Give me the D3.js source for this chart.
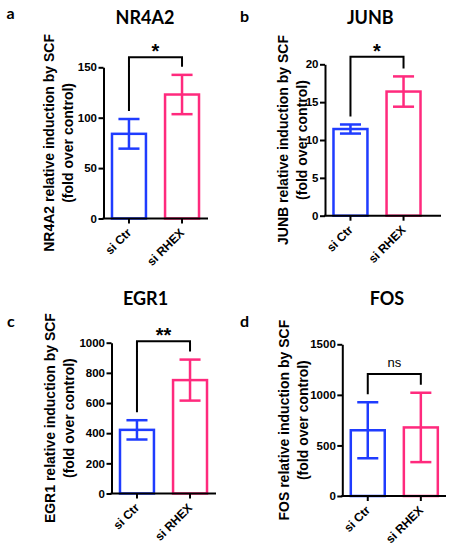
<!DOCTYPE html>
<html>
<head>
<meta charset="utf-8">
<script src="https://d3js.org/d3.v7.min.js"></script>
<style>
  body { margin: 0; background: #fff; }
  svg { display: block; }
  .axis path, .axis line { stroke: #000; stroke-width: 2px; }
</style>
</head>
<body>
<div id="chart"></div>
<script>
// data
var groups = ["si Ctr", "si RHEX"];
var genes = ["NR4A2", "JUNB", "EGR1", "FOS"];
var panelLetters = ["a", "b", "c", "d"];
var meanValues = [[84, 123], [11.45, 16.4], [422, 752], [650, 678]];
var errValues = [[14.7, 19.5], [0.6, 2.0], [64, 136], [277, 343]];
var yMaxValues = [150, 20, 1000, 1500];
var yTickValues = [[0, 50, 100, 150], [0, 5, 10, 15, 20], [0, 200, 400, 600, 800, 1000], [0, 500, 1000, 1500]];
var sigLabels = ["*", "*", "**", "ns"];
var bracketLevels = [160, 21, 1010, 1206];

var barColors = ["#1f3cff", "#ff2a7d"];
var axisFont = "'Liberation Sans', Arial, sans-serif";
var titleFont = "Lato, 'Open Sans', sans-serif";

// panel placement (pixels)
var panels = [
  { ox: 103.5, xEnd: 208, yTop: 67.3, yBot: 218.5, titleX: 145, titleY: 24.3, letX: 6.5, letY: 19, labX: 53.5 },
  { ox: 325, xEnd: 441, yTop: 64.3, yBot: 215.7, titleX: 370.3, titleY: 24, letX: 240, letY: 21.5, labX: 287.5 },
  { ox: 111.5, xEnd: 216, yTop: 342.7, yBot: 493.5, titleX: 145.5, titleY: 305, letX: 7, letY: 326.7, labX: 55 },
  { ox: 342.3, xEnd: 446, yTop: 344.3, yBot: 496, titleX: 387, titleY: 305, letX: 240, letY: 326.7, labX: 289 }
];

var svg = d3.select("#chart").append("svg")
  .attr("width", 454)
  .attr("height", 550);

panels.forEach(function(p, k) {
  var g = svg.append("g");

  var y = d3.scaleLinear()
    .domain([0, yMaxValues[k]])
    .range([p.yBot, p.yTop]);

  var x = d3.scaleBand()
    .domain(groups)
    .range([p.ox, p.ox + 104])
    .paddingInner(0.36)
    .paddingOuter(0.16);

  // bars
  g.selectAll("rect.bar")
    .data(groups)
    .enter()
    .append("rect")
    .attr("class", "bar")
    .attr("x", function(d) { return x(d); })
    .attr("y", function(d, i) { return y(meanValues[k][i]); })
    .attr("width", x.bandwidth())
    .attr("height", function(d, i) { return p.yBot - y(meanValues[k][i]); })
    .style("fill", "none")
    .style("stroke", function(d, i) { return barColors[i]; })
    .style("stroke-width", 2.5);

  // error bars
  var capW = x.bandwidth() * 0.62;
  groups.forEach(function(grp, i) {
    var cx = x(grp) + x.bandwidth() / 2;
    var hi = y(meanValues[k][i] + errValues[k][i]);
    var lo = y(meanValues[k][i] - errValues[k][i]);
    var eg = g.append("g")
      .style("stroke", barColors[i])
      .style("stroke-width", 2.5);
    eg.append("line").attr("x1", cx).attr("x2", cx).attr("y1", hi).attr("y2", lo);
    eg.append("line").attr("x1", cx - capW / 2).attr("x2", cx + capW / 2).attr("y1", hi).attr("y2", hi);
    eg.append("line").attr("x1", cx - capW / 2).attr("x2", cx + capW / 2).attr("y1", lo).attr("y2", lo);
  });

  // y axis
  g.append("g")
    .attr("class", "axis")
    .attr("transform", "translate(" + p.ox + ",0)")
    .call(d3.axisLeft(y).tickValues(yTickValues[k]).tickFormat(d3.format("d"))
      .tickSize(5).tickPadding(1.5).tickSizeOuter(0))
    .attr("font-family", axisFont)
    .attr("font-weight", "bold")
    .attr("font-size", 11.5);

  // x axis
  var xAxis = g.append("g")
    .attr("class", "axis")
    .attr("transform", "translate(0," + p.yBot + ")")
    .call(d3.axisBottom(x).tickSize(5).tickSizeOuter(0))
    .attr("font-family", axisFont)
    .attr("font-weight", "bold")
    .attr("font-size", 12);
  xAxis.select(".domain").attr("d", "M" + (p.ox - 1) + ",0H" + p.xEnd);
  xAxis.selectAll(".tick text")
    .attr("text-anchor", "end")
    .attr("x", 0)
    .attr("y", 0)
    .attr("dy", "0")
    .attr("transform", "translate(3,15) rotate(-45)");

  // significance bracket
  var by = y(bracketLevels[k]);
  var c1 = x(groups[0]) + x.bandwidth() / 2;
  var c2 = x(groups[1]) + x.bandwidth() / 2;
  var leg1 = y(meanValues[k][0] + errValues[k][0]) - 8;
  var leg2 = y(meanValues[k][1] + errValues[k][1]) - 8;
  g.append("path")
    .attr("d", "M" + c1 + "," + leg1 + "V" + by + "H" + c2 + "V" + leg2)
    .style("fill", "none")
    .style("stroke", "#000")
    .style("stroke-width", 2);

  var isNs = sigLabels[k] === "ns";
  g.append("text")
    .attr("x", (c1 + c2) / 2)
    .attr("y", isNs ? by - 7 : by + 1)
    .attr("text-anchor", "middle")
    .style("font-family", axisFont)
    .style("font-weight", isNs ? "normal" : "bold")
    .style("font-size", isNs ? "13px" : "20px")
    .text(sigLabels[k]);

  // title and panel letter
  g.append("text")
    .attr("x", p.titleX)
    .attr("y", p.titleY)
    .attr("text-anchor", "middle")
    .style("font-family", titleFont)
    .style("font-weight", "bold")
    .style("font-size", "18px")
    .text(genes[k]);

  g.append("text")
    .attr("x", p.letX)
    .attr("y", p.letY)
    .style("font-family", titleFont)
    .style("font-weight", "bold")
    .style("font-size", "16px")
    .text(panelLetters[k]);

  // y label, two lines
  var midY = (p.yTop + p.yBot) / 2;
  var lab = g.append("text")
    .attr("transform", "translate(" + p.labX + "," + midY + ") rotate(-90)")
    .attr("text-anchor", "middle")
    .style("font-family", axisFont)
    .style("font-weight", "bold")
    .style("font-size", "14px");
  lab.append("tspan").attr("x", 0).attr("y", 0).text(genes[k] + " relative induction by SCF");
  lab.append("tspan").attr("x", 0).attr("y", 19).text("(fold over control)");
});
</script>
</body>
</html>
